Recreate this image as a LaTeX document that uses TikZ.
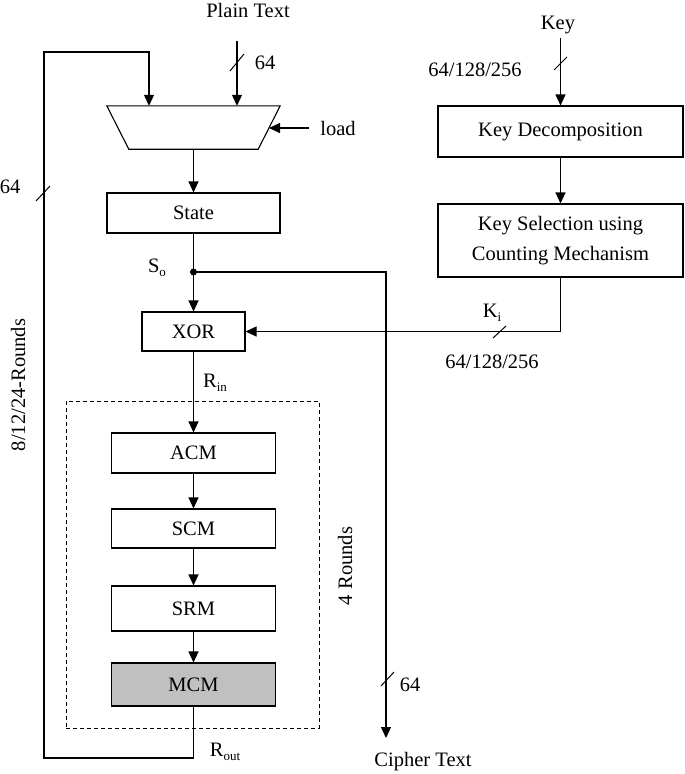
\documentclass[tikz,border=0pt]{standalone}
\usepackage{fontspec}
\setmainfont{Liberation Serif}
\usetikzlibrary{arrows.meta}
\definecolor{mcmgray}{RGB}{192,192,192}
\newcommand\lowsub[1]{\raisebox{-0.45ex}{\fontsize{13}{14}\selectfont #1}}
\begin{document}
\begin{tikzpicture}[x=1pt,y=-1pt,
  every node/.style={font=\fontsize{20.5}{24}\selectfont, inner sep=0pt},
  blk/.style={draw, line width=1.1pt},
  ln/.style={line width=1.1pt},
  arr/.style={ln, -{Triangle[length=11pt,width=10pt]}},
  sl/.style={line width=1pt},
  dashbox/.style={draw, line width=0.9pt, dash pattern=on 4pt off 3pt}]
\useasboundingbox (0,0) rectangle (685,774);

% boxes
\node[minimum width=173pt, minimum height=43pt] (mux) at (193.5,127.5) {};
\draw[blk] (mux.north west) -- (mux.north east) -- ([xshift=-22pt]mux.south east)
  -- ([xshift=22pt]mux.south west) -- cycle;
\node[blk, minimum width=173pt, minimum height=40pt] (state) at (193.5,213) {State};
\node[blk, minimum width=103pt, minimum height=39pt] (xor) at (193.5,331.5) {XOR};
\node[dashbox, minimum width=253pt, minimum height=327pt] (rounds) at (192.5,564.5) {};
\node[blk, minimum width=164pt, minimum height=40pt] (acm) at (193.5,453) {ACM};
\node[blk, minimum width=164pt, minimum height=39pt] (scm) at (193.5,528.5) {SCM};
\node[blk, minimum width=164pt, minimum height=45pt] (srm) at (193.5,608.5) {SRM};
\node[blk, fill=mcmgray, minimum width=164pt, minimum height=43pt] (mcm) at (193.5,684.5) {MCM};
\node[blk, minimum width=245pt, minimum height=51pt] (kdec) at (560.5,131.5) {Key Decomposition};
\node[blk, minimum width=245pt, minimum height=73pt, align=center,
  font=\fontsize{20.5}{30}\selectfont] (ksel) at (560.5,240.5) {Key Selection using\\Counting Mechanism};

% coordinates
\coordinate (ptin) at (237,41);
\coordinate (keyin) at (560.5,38);
\coordinate (loadin) at (309,128);
\coordinate (loadtip) at (269,128);
\coordinate (fbA) at (44,758);
\coordinate (fbB) at (44,52);
\coordinate (fbC) at (149,52);
\coordinate (dot) at (193.5,272);
\coordinate (ctout) at (386,738);

% connectors
\draw[arr] (ptin) -- (ptin |- mux.north);
\draw[arr] (mcm.south) |- (fbA) -- (fbB) -- (fbC) -- (fbC |- mux.north);
\draw[arr] (loadin) -- (loadtip);
\draw[arr] (mux.south) -- (state.north);
\draw[arr] (state.south) -- (xor.north);
\fill (dot) circle (3.5pt);
\draw[arr] (dot) -| (ctout);
\draw[arr] (ksel.south) |- (xor.east);
\draw[arr] (keyin) -- (kdec.north);
\draw[arr] (kdec.south) -- (ksel.north);
\draw[arr] (xor.south) -- (acm.north);
\draw[arr] (acm.south) -- (scm.north);
\draw[arr] (scm.south) -- (srm.north);
\draw[arr] (srm.south) -- (mcm.north);

% bus slashes
\draw[sl] (230,71) -- (244,54);
\draw[sl] (36,201) -- (50,186);
\draw[sl] (554,70) -- (567,57);
\draw[sl] (493,338) -- (506,326);
\draw[sl] (381,686) -- (394,672);

% labels
\node (lplain) at (248,10) {Plain Text};
\node (l64a) at (265,63) {64};
\node (lload) at (338,128) {load};
\node (l64b) at (10,187) {64};
\node[rotate=90] (lrounds) at (18,385) {8/12/24-Rounds};
\node (lso) at (157,268) {S\lowsub{o}};
\node (lrin) at (215,383) {R\lowsub{in}};
\node (lkey) at (558,25) {Key};
\node (lk1) at (475,70) {64/128/256};
\node (lki) at (492,313) {K\lowsub{i}};
\node (lk2) at (492,362) {64/128/256};
\node[rotate=90] (l4r) at (345,566) {4 Rounds};
\node (l64c) at (410,685) {64};
\node (lrout) at (225,752) {R\lowsub{out}};
\node (lct) at (423,762) {Cipher Text};
\end{tikzpicture}
\end{document}
